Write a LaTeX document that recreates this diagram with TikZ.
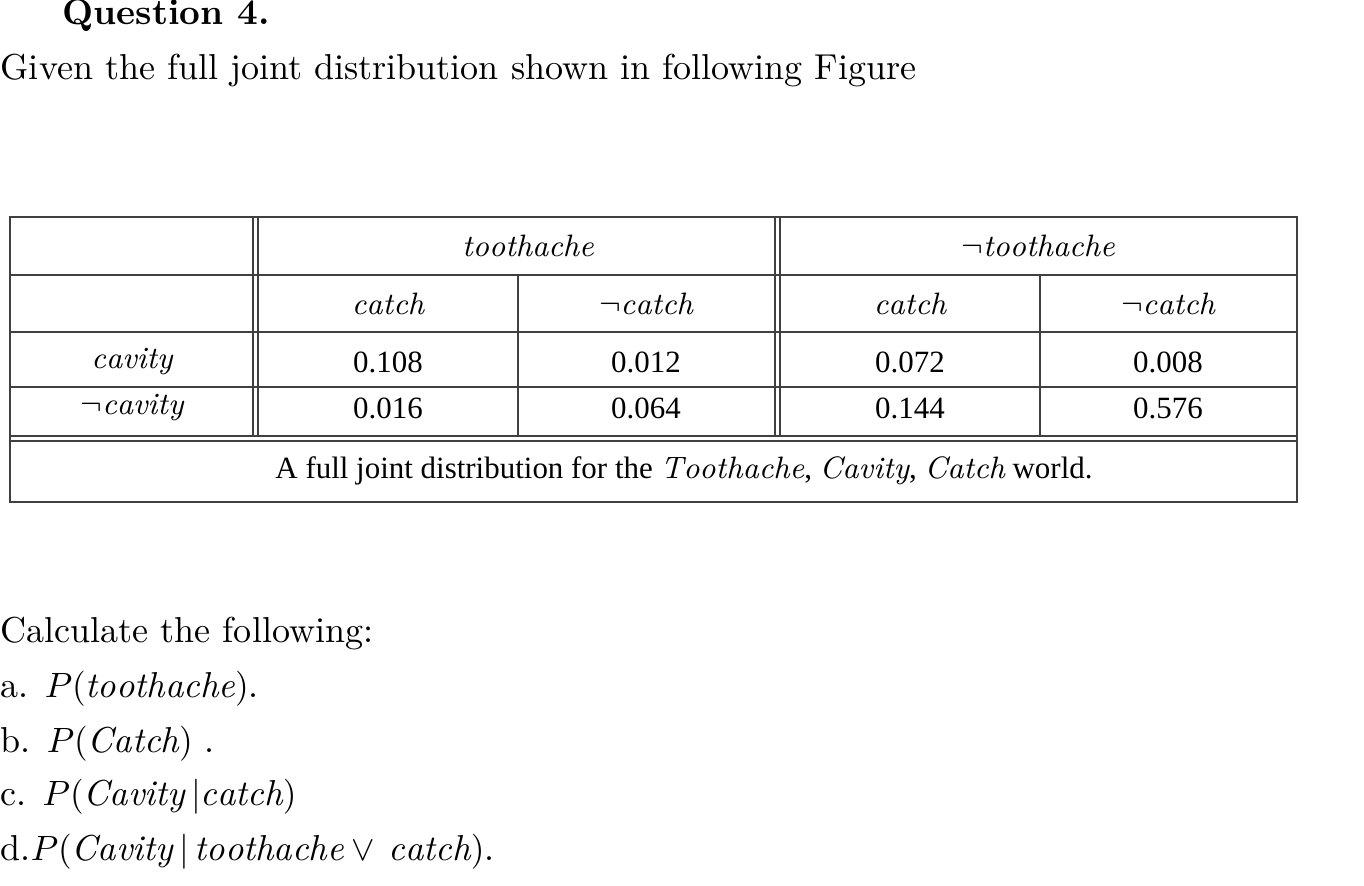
\documentclass[tikz,border=0pt]{standalone}
\usepackage{fontspec}
\newfontfamily\tms{Liberation Serif}
\begin{document}
\begin{tikzpicture}[x=0.01cm,y=-0.01cm,
  body/.style={anchor=base west,inner sep=0,font=\fontsize{10.25}{12}\selectfont},
  cell/.style={inner sep=0,font=\fontsize{8.8}{10}\selectfont\tms},
  ln/.style={line width=0.6pt,draw=black!75}]
\useasboundingbox (0,0) rectangle (1364,886);
\node[body,font=\fontsize{10.25}{12}\selectfont\bfseries] (q) at (62,25) {Question 4.};
\node[body] (g) at (0,80) {Given the full joint distribution shown in following Figure};
% table
\draw[ln] (10,217) rectangle (1297,502);
\foreach \y in {275,332,387} \draw[ln] (10,\y) -- (1297,\y);
\foreach \y in {436,441} \draw[ln] (10,\y) -- (1297,\y);
\foreach \x in {253,258,775,780} \draw[ln] (\x,217) -- (\x,436);
\foreach \x in {518,1040} \draw[ln] (\x,275) -- (\x,436);
\node[cell] (t1) at (528,246) {$\mathit{toothache}$};
\node[cell] (t2) at (1038,246) {$\neg\mathit{toothache}$};
\node[cell] (c1) at (388,304) {$\mathit{catch}$};
\node[cell] (c2) at (646,304) {$\neg\mathit{catch}$};
\node[cell] (c3) at (910,304) {$\mathit{catch}$};
\node[cell] (c4) at (1168,304) {$\neg\mathit{catch}$};
\node[cell] (r1) at (132,362) {$\mathit{cavity}$};
\node[cell] (r2) at (132,408) {$\neg\mathit{cavity}$};
\node[cell] (v11) at (388,362) {0.108};
\node[cell] (v12) at (646,362) {0.012};
\node[cell] (v13) at (910,362) {0.072};
\node[cell] (v14) at (1168,362) {0.008};
\node[cell] (v21) at (388,408) {0.016};
\node[cell] (v22) at (646,408) {0.064};
\node[cell] (v23) at (910,408) {0.144};
\node[cell] (v24) at (1168,408) {0.576};
\node[cell] (cap) at (684,471) {A full joint distribution for the $\mathit{Toothache}$, $\mathit{Cavity}$, $\mathit{Catch}$ world.};
% questions
\node[body] (calc) at (0,643) {Calculate the following:};
\node[body] (qa) at (0,698) {a. $P(\mathit{toothache})$.};
\node[body] (qb) at (0,752) {b. $P(\mathit{Catch})$\ .};
\node[body] (qc) at (0,805) {c. $P(\mathit{Cavity}\,|\mathit{catch})$};
\node[body] (qd) at (0,860) {d.$P(\mathit{Cavity}\,|\,\mathit{toothache}\vee\,\mathit{catch})$.};
\end{tikzpicture}
\end{document}
